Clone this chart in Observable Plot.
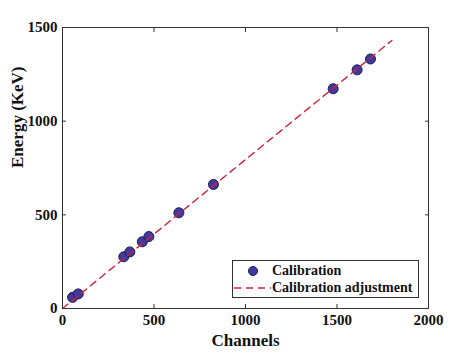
<!DOCTYPE html>
<html>
<head>
<meta charset="utf-8">
<script src="https://cdn.jsdelivr.net/npm/d3@7"></script>
<script src="https://cdn.jsdelivr.net/npm/@observablehq/plot@0.6"></script>
<style>
  html, body { margin: 0; padding: 0; background: #fff; }
  #chart { position: relative; width: 474px; height: 355px; }
  #chart svg text { font-weight: bold; }
  #legend {
    position: absolute; left: 232px; top: 260px; width: 187px; height: 38px;
    border: 1px solid #333; background: #fff; box-sizing: border-box;
    font: bold 14px "Liberation Serif", "Times New Roman", serif; color: #111;
  }
  #legend .row { position: absolute; left: 0; width: 100%; height: 16px; line-height: 16px; white-space: nowrap; }
  #legend .lbl { position: absolute; left: 39px; top: 0; }
</style>
</head>
<body>
<div id="chart"></div>
<script>
// Calibration points
const channels = [55, 86, 335, 368, 436, 472, 636, 825, 1479, 1610, 1683];
const energies = [59.5, 78, 276, 302, 356, 384, 511, 662, 1173, 1274, 1332];
// Fitted calibration line endpoints
const fitChannels = [0, 1800];
const fitEnergies = [0, 1431];
const xTicks = [0, 500, 1000, 1500, 2000];
const yTicks = [0, 500, 1000, 1500];
const seriesNames = ["Calibration", "Calibration adjustment"];

const points = channels.map((c, i) => ({channel: c, energy: energies[i]}));
const fit = fitChannels.map((c, i) => ({channel: c, energy: fitEnergies[i]}));

const fontFamily = '"Liberation Serif", "Times New Roman", serif';
const fmt = d3.format("d");
const plot = Plot.plot({
  width: 474,
  height: 355,
  marginLeft: 62,
  marginRight: 46,
  marginTop: 27,
  marginBottom: 47,
  style: {fontFamily, fontWeight: "bold", fontSize: "15px", color: "#111", background: "#fff"},
  x: {domain: [0, 2000]},
  y: {domain: [0, 1500]},
  marks: [
    Plot.dot(points, {x: "channel", y: "energy", r: 5, fill: "#41399c", stroke: "#1c1c55", strokeWidth: 1}),
    Plot.line(fit, {x: "channel", y: "energy", stroke: "#d0203a", strokeWidth: 1.4, strokeDasharray: "7,5"}),
    Plot.frame({stroke: "#333", strokeWidth: 1}),
    Plot.axisX(xTicks, {anchor: "bottom", tickSize: -4, tickPadding: 10, tickFormat: fmt, stroke: "#333", fill: "#111", label: null, fontSize: 15, fontWeight: "bold"}),
    Plot.axisX(xTicks, {anchor: "top", tickSize: -4, tickFormat: () => "", stroke: "#333", label: null}),
    Plot.axisY(yTicks, {anchor: "left", tickSize: -4, tickPadding: 9, tickFormat: fmt, stroke: "#333", fill: "#111", label: null, fontSize: 15, fontWeight: "bold"}),
    Plot.axisY(yTicks, {anchor: "right", tickSize: -4, tickFormat: () => "", stroke: "#333", label: null}),
    Plot.text(["Channels"], {frameAnchor: "bottom", dy: 37, fontSize: 17, fontWeight: "bold", fill: "#111"}),
    Plot.text(["Energy (KeV)"], {frameAnchor: "left", dx: -45, rotate: -90, fontSize: 17, fontWeight: "bold", fill: "#111"})
  ]
});
document.getElementById("chart").appendChild(plot);

// Legend
const leg = document.createElement("div");
leg.id = "legend";
leg.innerHTML = `
  <div class="row" style="top:2px">
    <svg width="38" height="16" style="position:absolute;left:0;top:0">
      <circle cx="20" cy="8" r="4.5" fill="#41399c" stroke="#1c1c55"/>
    </svg>
    <span class="lbl">${seriesNames[0]}</span>
  </div>
  <div class="row" style="top:19px">
    <svg width="38" height="16" style="position:absolute;left:0;top:0">
      <line x1="1" x2="38" y1="8" y2="8" stroke="#d0203a" stroke-width="1.4" stroke-dasharray="7,5"/>
    </svg>
    <span class="lbl">${seriesNames[1]}</span>
  </div>`;
document.getElementById("chart").appendChild(leg);
</script>
</body>
</html>
